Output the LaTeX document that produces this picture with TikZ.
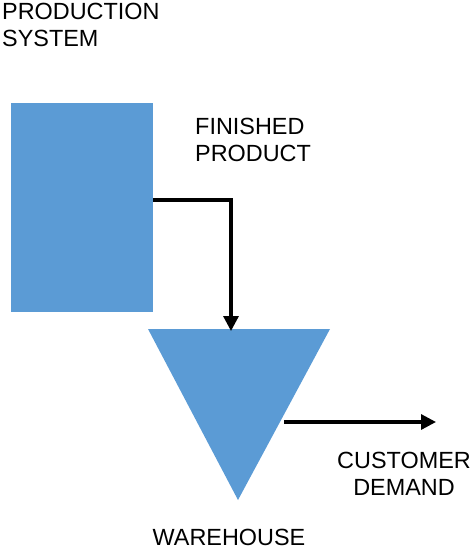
\documentclass[tikz,border=0pt]{standalone}
\usepackage{fontspec}
\setmainfont{Liberation Sans}
\usetikzlibrary{arrows.meta}
\definecolor{boxblue}{HTML}{5B9BD5}
\begin{document}
\begin{tikzpicture}[x=1bp,y=-1bp,
  lbl/.style={inner sep=0pt,font=\fontsize{23.5}{27}\selectfont,text=black},
  flow/.style={line width=3.2bp,-{Triangle[length=15bp,width=15bp]}},
  shapefill/.style={fill=boxblue,draw=none}]
\useasboundingbox (0,0) rectangle (474,550);
% production system rectangle
\path[shapefill] (11,103) rectangle (153,312);
\coordinate (rectR) at (153,200);
\coordinate (bend) at (231,200);
% warehouse triangle
\path[shapefill] (148,329) -- (330,329) -- (238,500) -- cycle;
\coordinate (triTop) at (231,331);
\coordinate (triR) at (284,422);
\coordinate (demand) at (436,422);
\draw[flow] (rectR) -- (bend) -- (triTop);
\draw[flow] (triR) -- (demand);
\node[lbl,anchor=north west,align=left] (prod) at (2,3) {PRODUCTION\\SYSTEM};
\node[lbl,anchor=north west,align=left] (fin) at (195,118) {FINISHED\\PRODUCT};
\node[lbl,anchor=north,align=center] (cust) at (404,452) {CUSTOMER\\DEMAND};
\node[lbl,anchor=north] (wh) at (229,529) {WAREHOUSE};
\end{tikzpicture}
\end{document}
